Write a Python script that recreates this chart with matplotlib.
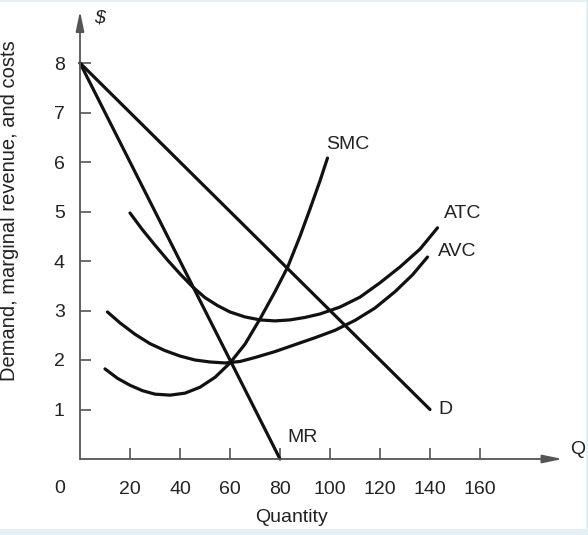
import numpy as np
import matplotlib.pyplot as plt
from matplotlib.patches import Rectangle

plt.rcParams['font.family'] = ['Liberation Sans', 'DejaVu Sans']

# demanda y ingreso marginal (rectas)
d_q = [0, 140]
d_p = [8, 1]
mr_q = [0, 80]
mr_p = [8, 0]

# costos
smc_q = [10, 15, 20, 25, 30, 36, 42, 48, 54, 60, 66, 72, 78, 83, 88, 92, 96, 99]
smc_p = [1.82, 1.63, 1.49, 1.38, 1.31, 1.29, 1.33, 1.45, 1.65, 1.94, 2.32, 2.83, 3.38, 3.87, 4.5, 5.05, 5.62, 6.08]
atc_q = [20, 25, 30, 35, 40, 45, 50, 55, 60, 66, 72, 78, 84, 90, 96, 100, 104, 112, 120, 128, 136, 143]
atc_p = [4.97, 4.63, 4.32, 4.02, 3.74, 3.48, 3.26, 3.1, 2.97, 2.87, 2.81, 2.79, 2.81, 2.86, 2.93, 3.0, 3.07, 3.27, 3.56, 3.88, 4.24, 4.67]
avc_q = [11, 16, 22, 28, 34, 40, 46, 52, 58, 64, 70, 78, 86, 94, 102, 110, 118, 126, 133, 139]
avc_p = [2.97, 2.75, 2.52, 2.33, 2.19, 2.08, 2.0, 1.96, 1.94, 1.97, 2.05, 2.17, 2.31, 2.45, 2.6, 2.8, 3.05, 3.38, 3.72, 4.08]

x_ticks = [20, 40, 60, 80, 100, 120, 140, 160]
y_ticks = [1, 2, 3, 4, 5, 6, 7, 8]

W, H = 588, 535
fig = plt.figure(figsize=(W / 100, H / 100), dpi=100, facecolor='#e4f1f4')
fig.patches.append(Rectangle((0, 6 / H), 586 / W, 527 / H, transform=fig.transFigure,
                             facecolor='white', edgecolor='none', zorder=-5))

# eje: x pixel = 80 + 2.5*q ; y pixel = 459 - 49.5*p
ax = fig.add_axes([80 / W, 1 - 459 / H, 508 / W, 459 / H])
ax.set_zorder(2)
ax.set_xlim(0, 508 / 2.5)
ax.set_ylim(0, 459 / 49.5)
ax.patch.set_alpha(0)
for s in ax.spines.values():
    s.set_visible(False)

gris = '#555555'
ax.annotate('', xy=(193, 0), xytext=(0, 0), annotation_clip=False,
            arrowprops=dict(arrowstyle='-|>,head_length=1.2,head_width=0.25', color=gris, lw=1.3,
                            shrinkA=0, shrinkB=0))
ax.annotate('', xy=(0, 9.05), xytext=(0, 0), annotation_clip=False,
            arrowprops=dict(arrowstyle='-|>,head_length=1.2,head_width=0.25', color=gris, lw=1.3,
                            shrinkA=0, shrinkB=0))

ax.set_xticks(x_ticks)
ax.set_yticks(y_ticks)
ax.tick_params(axis='both', direction='in', length=8, width=1.2, color=gris,
               labelsize=14, labelcolor='#222222')
ax.tick_params(axis='x', pad=16)
ax.tick_params(axis='y', pad=11)
ax.text(-8, -0.6, '0', fontsize=14, color='#222222', ha='center', va='center')

lw = 2.3
ax.plot(d_q, d_p, color='#111111', lw=lw, solid_capstyle='round', clip_on=False)
ax.plot(mr_q, mr_p, color='#111111', lw=lw, solid_capstyle='round', clip_on=False)
ax.plot(smc_q, smc_p, color='#111111', lw=lw, solid_capstyle='round', clip_on=False)
ax.plot(atc_q, atc_p, color='#111111', lw=lw, solid_capstyle='round', clip_on=False)
ax.plot(avc_q, avc_p, color='#111111', lw=lw, solid_capstyle='round', clip_on=False)

ax.text(107, 6.35, 'SMC', fontsize=14, ha='center', va='center', color='#222222')
ax.text(153, 4.95, 'ATC', fontsize=14, ha='center', va='center', color='#222222')
ax.text(151, 4.2, 'AVC', fontsize=14, ha='center', va='center', color='#222222')
ax.text(146, 1.0, 'D', fontsize=14, ha='center', va='center', color='#222222')
ax.text(89, 0.43, 'MR', fontsize=14, ha='center', va='center', color='#222222')
ax.text(199, 0.2, 'Q', fontsize=14, ha='center', va='center', color='#222222')
ax.text(8, 8.9, '$', fontsize=14, ha='center', va='center', color='#222222', style='italic')

fig.text(291 / W, 1 - 518 / H, 'Quantity', fontsize=14, ha='center', va='center', color='#222222')
fig.text(10 / W, 1 - 211 / H, 'Demand, marginal revenue, and costs', fontsize=14.5,
         rotation=90, ha='center', va='center', color='#222222')

fig.savefig('out.png', dpi=100, facecolor=fig.get_facecolor())
